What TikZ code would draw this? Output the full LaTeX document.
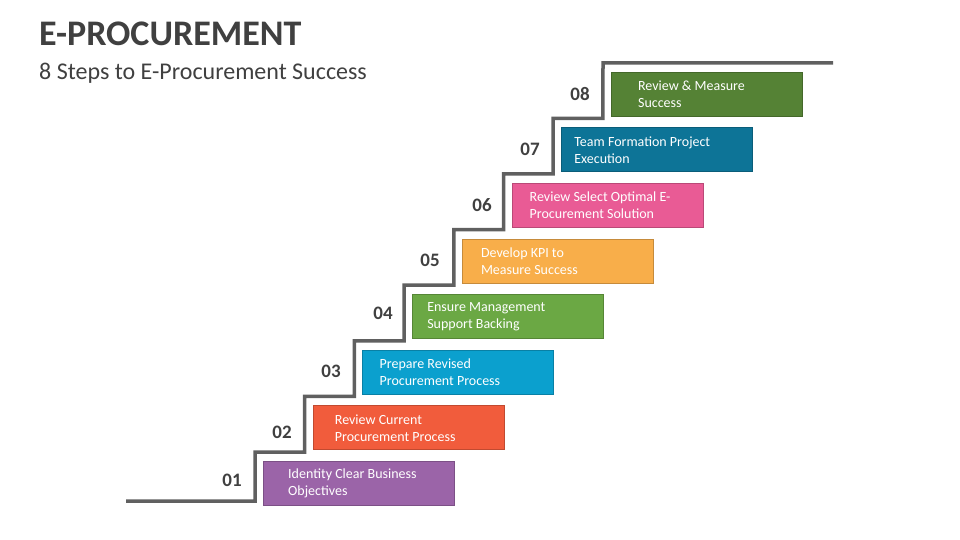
\documentclass[tikz,border=0pt]{standalone}
\usepackage{fontspec}
\setmainfont{Carlito}
\definecolor{stair}{HTML}{606060}
\definecolor{numc}{HTML}{404040}
\definecolor{c1}{HTML}{9B64A8}
\definecolor{c2}{HTML}{F15C3C}
\definecolor{c3}{HTML}{0BA0CE}
\definecolor{c4}{HTML}{6BA844}
\definecolor{c5}{HTML}{F8AE4A}
\definecolor{c6}{HTML}{E95B95}
\definecolor{c7}{HTML}{0D7497}
\definecolor{c8}{HTML}{558235}
\tikzset{
  stepbox/.style={draw=#1!80!black, fill=#1, line width=0.8pt, minimum width=191pt, minimum height=44pt, anchor=north west, inner sep=0pt},
  boxtext/.style={anchor=west, text=white, align=left, font=\fontsize{14}{17}\selectfont, inner sep=0pt},
  stepnum/.style={text=numc, font=\bfseries\fontsize{19}{19}\selectfont, inner sep=0pt},
}
\begin{document}
\begin{tikzpicture}[x=1pt,y=-1pt]
\useasboundingbox (0,0) rectangle (960,540);
\fill[white] (0,0) rectangle (960,540);
\node[anchor=base west, inner sep=0pt, text=numc, font=\bfseries\fontsize{36}{36}\selectfont] (title) at (39,46) {E-PROCUREMENT};
\node[anchor=base west, inner sep=0pt, text=numc, font=\fontsize{24}{24}\selectfont] (sub) at (39,80) {8 Steps to E-Procurement Success};
% stairs
\draw[stair, line width=3.5pt, line join=miter]
  (126,501) -- (255,501)
  \foreach \k in {1,...,7} { -- ({255+49.7*(\k-1)},{452-55.6*(\k-1)}) -- ({255+49.7*\k},{452-55.6*(\k-1)}) }
  -- (603,63) -- (833,63);
\foreach \k/\c/\off/\nx/\ny/\la/\lb in {
  1/c1/25/232/480/Identity Clear Business/Objectives,
  2/c2/22/282/432/Review Current/Procurement Process,
  3/c3/17/331/371/Prepare Revised/Procurement Process,
  4/c4/15/383/313/Ensure Management/Support Backing,
  5/c5/19/430/260/Develop KPI to/Measure Success,
  6/c6/18/482/205/Review Select Optimal E-/Procurement Solution,
  7/c7/13/530/149/Team Formation Project/Execution,
  8/c8/27/580/94/Review \& Measure/Success} {
  \node[stepbox=\c] (b\k) at ({263+49.7*(\k-1)},{461-55.6*(\k-1)}) {};
  \node[boxtext] (t\k) at ([xshift=\off pt]b\k.west) {\la\\\lb};
  \node[stepnum] (n\k) at (\nx,\ny) {0\k};
}
\end{tikzpicture}
\end{document}
